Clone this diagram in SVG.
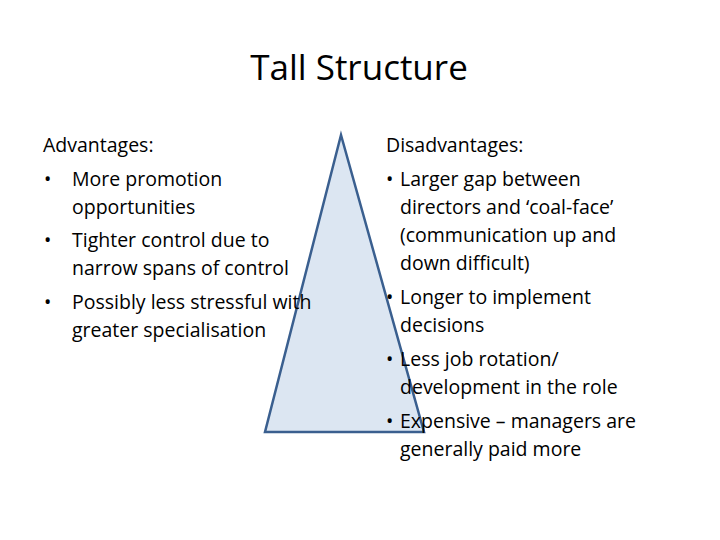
<svg xmlns="http://www.w3.org/2000/svg" width="720" height="540" viewBox="0 0 720 540">
<style>
text{font-family:"Open Sans","Liberation Sans",sans-serif;fill:#000;font-size:19.5px}
</style>
<rect width="720" height="540" fill="#fff"/>
<polygon points="341,135 265,432 424,432" fill="#dce6f2" stroke="#3a5f8f" stroke-width="2.5"/>
<text x="359" y="80" style="font-size:35px" text-anchor="middle">Tall Structure</text>
<g id="left">
<text x="43" y="152">Advantages:</text>
<text x="44" y="186">•</text><text x="72" y="186">More promotion</text>
<text x="72" y="214">opportunities</text>
<text x="44" y="247">•</text><text x="72" y="247">Tighter control due to</text>
<text x="72" y="275">narrow spans of control</text>
<text x="44" y="309">•</text><text x="72" y="309">Possibly less stressful with</text>
<text x="72" y="337">greater specialisation</text>
</g>
<g id="right">
<text x="386" y="152">Disadvantages:</text>
<text x="386" y="186">•</text><text x="400" y="186">Larger gap between</text>
<text x="400" y="214">directors and ‘coal-face’</text>
<text x="400" y="242">(communication up and</text>
<text x="400" y="270">down difficult)</text>
<text x="386" y="304">•</text><text x="400" y="304">Longer to implement</text>
<text x="400" y="332">decisions</text>
<text x="386" y="366">•</text><text x="400" y="366">Less job rotation/</text>
<text x="400" y="394">development in the role</text>
<text x="386" y="428">•</text><text x="400" y="428">Expensive – managers are</text>
<text x="400" y="456">generally paid more</text>
</g>
</svg>
